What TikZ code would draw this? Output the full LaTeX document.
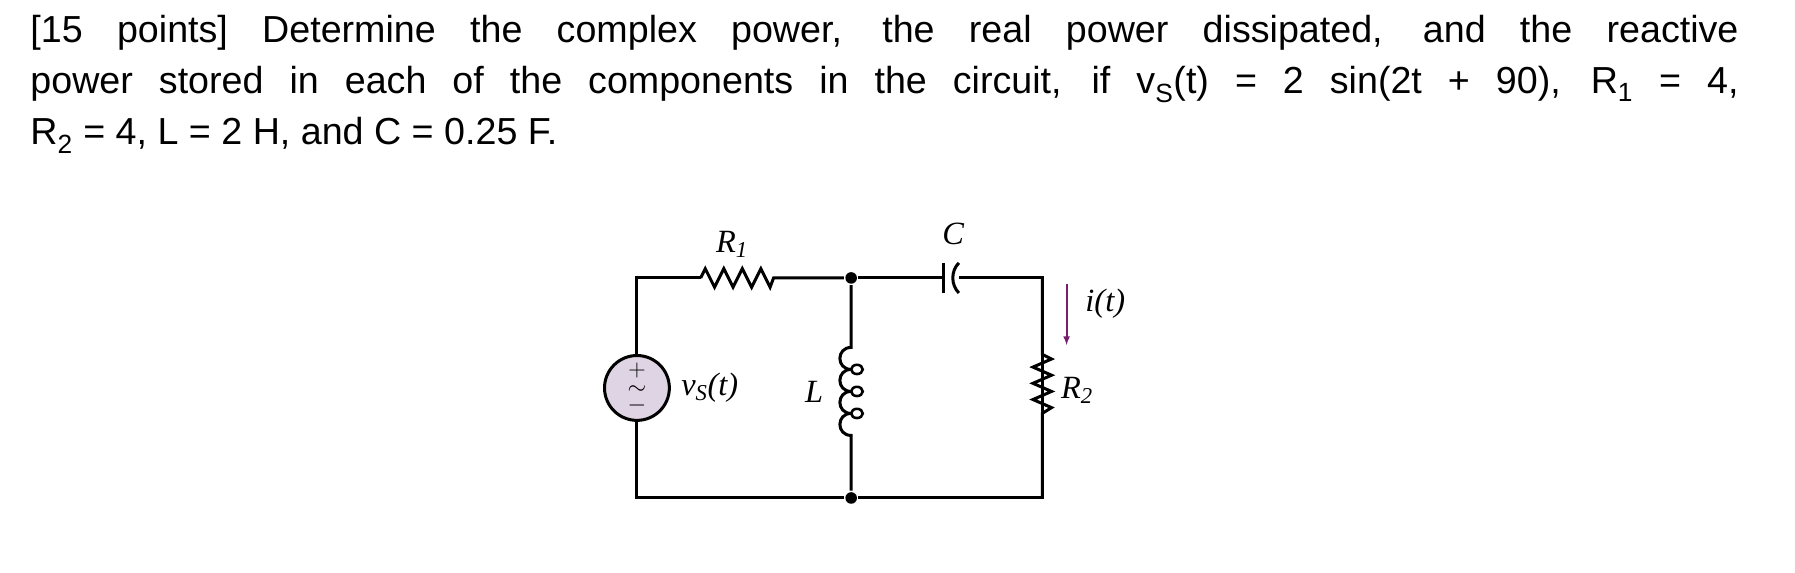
\documentclass[tikz,border=0pt]{standalone}
\usepackage{fontspec}
\setmainfont{Liberation Sans}
\newfontfamily\serifcirc{Liberation Serif}
\definecolor{srcfill}{RGB}{222,212,228}
\definecolor{arrowpurple}{RGB}{120,30,110}
\begin{document}
\begin{tikzpicture}[x=1pt, y=-1pt, line width=2.6pt]
    \tikzstyle{wire} = [line width=2.6pt]
    \tikzstyle{dot} = [circle, fill, minimum width=10pt, inner sep=0pt]
    \tikzstyle{sign} = [font=\fontsize{21}{21}\selectfont, inner sep=0pt]
    \tikzstyle{lbl} = [font=\serifcirc\fontsize{28}{28}\selectfont\itshape, inner sep=0pt]
    \useasboundingbox (0,0) rectangle (1550,494);
    % problem statement
    \node[anchor=north west, text width=1475pt, align=justify, inner sep=0pt,
          font=\fontsize{32.5}{44}\selectfont] (text) at (25,12)
        {[15 points] Determine the complex power, the real power dissipated, and the reactive\linebreak
         power stored in each of the components in the circuit, if v\textsubscript{S}(t) = 2 sin(2t + 90), R\textsubscript{1} = 4,\linebreak
         R\textsubscript{2} = 4, L = 2 H, and C = 0.25 F.};
    % corners
    \coordinate (tl) at (550,240);
    \coordinate (bl) at (550,430);
    \coordinate (tr) at (900,240);
    \coordinate (br) at (900,430);
    \node[dot] (top) at (735,240) {};
    \node[dot] (bot) at (735,430) {};
    % source
    \node[circle, draw, fill=srcfill, minimum size=56pt, inner sep=0pt] (vs) at (550,335) {};
    \node[sign] at (550,320) {$+$};
    \node[sign] at (550,337) {$\sim$};
    \node[sign] at (550,350) {$-$};
    \draw[wire] (vs.north) -- (tl) -- (605,240);
    \draw[wire] (vs.south) -- (bl) -- (bot) -- (br) -- (tr) -- (828,240);
    % R1
    \draw[wire, line join=miter]
        (605,240) -- (609,232) -- (617,248) -- (625,232) -- (633,248) -- (641,232)
        -- (649,248) -- (657,232) -- (665,248) -- (668,240) -- (top);
    \node[lbl] (R1) at (632,211) {R\textsubscript{1}};
    % capacitor
    \draw[wire] (top) -- (815,240);
    \draw[wire] (815,227) -- (815,253);
    \draw[wire] (828,227) .. controls (821,234) and (821,246) .. (828,253);
    \node[lbl] (C) at (823,202) {C};
    % inductor
    \draw[wire] (top) -- (735,300)
        .. controls (722,300) and (722,319) .. (735,319)
        .. controls (722,319) and (722,338) .. (735,338)
        .. controls (722,338) and (722,357) .. (735,357)
        .. controls (722,357) and (722,376) .. (735,376) -- (bot);
    \foreach \y in {319,338,357}
        \draw[line width=2.2pt] (740,\y) ellipse (5 and 4);
    \node[lbl] (L) at (703,338) {L};
    % R2
    \draw[wire, line join=miter] (tr) -- (900,306) -- (908,310) -- (892,317) -- (908,324)
        -- (892,331) -- (908,338) -- (892,345) -- (908,352) -- (900,357) -- (br);
    \node[lbl, anchor=west] (R2) at (915,337) {R\textsubscript{2}};
    % current arrow
    \draw[arrowpurple, line width=1.6pt, -latex] (921,245) -- (921,298);
    \node[lbl, anchor=west] (it) at (936,262) {i(t)};
    \node[lbl, anchor=west] (vlabel) at (587,335) {v\textsubscript{S}(t)};
\end{tikzpicture}
\end{document}
